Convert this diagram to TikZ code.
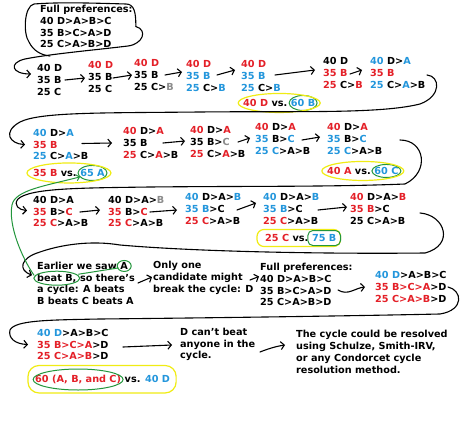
\documentclass[tikz,border=0pt]{standalone}
\usepackage{fontspec}
\setmainfont{DejaVu Sans}
\usetikzlibrary{arrows.meta,calc}
\definecolor{cred}{RGB}{228,32,40}
\definecolor{cblue}{RGB}{35,150,220}
\definecolor{cgray}{RGB}{140,140,140}
\definecolor{cyel}{RGB}{240,236,20}
\definecolor{cgrn}{RGB}{35,150,60}
\newcommand{\Rd}[1]{\textcolor{cred}{#1}}
\newcommand{\Bl}[1]{\textcolor{cblue}{#1}}
\newcommand{\Gy}[1]{\textcolor{cgray}{#1}}
\begin{document}
\begin{tikzpicture}[x=1pt,y=-1pt,line cap=round,line join=round,
  txt/.style={font=\bfseries\fontsize{9.7}{11.8}\selectfont, align=left, inner sep=0pt, anchor=west},
  ln/.style={font=\bfseries\fontsize{9.7}{11.8}\selectfont, inner sep=0pt, anchor=base west},
  hand/.style={line width=1.1pt},
  arr/.style={hand, -{Straight Barb[length=3.5pt,width=8pt]}},
  yel/.style={draw=cyel, line width=1.2pt},
  grn/.style={draw=cgrn, line width=1pt}]
\fill[white] (0,0) rectangle (474,422);
\useasboundingbox (0,0) rectangle (474,422);

% ---------- row 1 ----------
\node[txt] (b0) at (40,26.5) {Full preferences:\\40 D>A>B>C\\35 B>C>A>D\\25 C>A>B>D};
\node[txt] (b1) at (37,80) {40 D\\35 B\\25 C};
\node[txt] (b2) at (88,77) {\Rd{40 D}\\35 B\\25 C};
\node[txt] (b3) at (134,75) {\Rd{40 D}\\35 B\\25 C>\Gy{B}};
\node[txt] (b4) at (186,76) {\Rd{40 D}\\\Bl{35 B}\\\Bl{25} C>\Bl{B}};
\node[txt] (b5) at (241,76) {\Rd{40 D}\\\Bl{35 B}\\\Bl{25} C>\Bl{B}};
\node[txt] (b6) at (323,73) {40 D\\\Rd{35 B}\\\Rd{25} C>\Rd{B}};
\node[txt] (b7) at (370,73) {\Bl{40} D>\Bl{A}\\\Rd{35 B}\\\Bl{25} C>\Bl{A}>B};
\node[ln] (v1a) at (243,106.5) {\Rd{40 D} vs.};
\node[ln] (v1b) at ([xshift=3.3pt]v1a.base east) {\Bl{60 B}};

\draw[hand] ($(b0.east)+(3,0)$) .. controls (136,12) and (134,4) .. (126,4)
  .. controls (90,3) and (60,2) .. (34,4) .. controls (24,6) and (23,34) .. (29,42)
  .. controls (33,50) and (40,55) .. (50,56);
\draw[arr] ($(b0.east)+(3,0)$) .. controls (148,30) and (143,44) .. (128,46)
  .. controls (95,50) and (50,54) .. (25,59) .. controls (8,63) and (12,74) .. ($(b1.west)+(-6,-6)$);
\draw[arr] ($(b1.west)+(28,0)$) -- ($(b2.west)+(-3,1)$);
\draw[arr] ($(b2.west)+(25,1)$) -- ($(b3.west)+(-2,0)$);
\draw[arr] ($(b3.west)+(31,0)$) -- ($(b4.west)+(-4,-4)$);
\draw[arr] ($(b4.west)+(31,-1)$) -- ($(b5.west)+(-6,-6)$);
\draw[arr] ($(b5.west)+(34,-1)$) -- ($(b6.west)+(-8,-3)$);
\draw[arr] ($(b6.west)+(27,1)$) -- ($(b7.west)+(-8,-3)$);
\draw[grn] (v1b.center) ellipse (14 and 7.5);
\draw[yel] ($(v1a.west)!0.5!(v1b.east)$) ellipse (41 and 9.5);

% ---------- row 2 ----------
\node[txt] (b8) at (33,144.5) {\Bl{40} D>\Bl{A}\\\Rd{35 B}\\\Bl{25} C>\Bl{A}>B};
\node[txt] (b9) at (123,143) {\Rd{40} D>\Rd{A}\\35 B\\\Rd{25} C>\Rd{A}>B};
\node[txt] (b10) at (190,142) {\Rd{40} D>\Rd{A}\\35 B>\Gy{C}\\\Rd{25} C>\Rd{A}>B};
\node[txt] (b11) at (255,139) {\Rd{40} D>\Rd{A}\\\Bl{35} B>\Bl{C}\\\Bl{25 C}>A>B};
\node[txt] (b12) at (327,139) {\Rd{40} D>\Rd{A}\\\Bl{35} B>\Bl{C}\\\Bl{25 C}>A>B};
\node[ln] (v2a) at (33,176.5) {\Rd{35 B} vs.};
\node[ln] (v2b) at ([xshift=3.3pt]v2a.base east) {\Bl{65 A}};
\node[ln] (v3a) at (327,174.5) {\Rd{40 A} vs.};
\node[ln] (v3b) at ([xshift=3.3pt]v3a.base east) {\Bl{60 C}};

\draw[arr] ($(b7.west)+(57,2)$) .. controls (440,76) and (442,96) .. (420,104)
  .. controls (380,114) and (300,111) .. (200,112) .. controls (100,113) and (40,112) .. (20,122)
  .. controls (2,132) and (10,144) .. ($(b8.west)+(-8,0)$);
\draw[arr] ($(b8.west)+(49,-1)$) -- ($(b9.west)+(-11,0)$);
\draw[arr] ($(b9.west)+(40,0)$) -- ($(b10.west)+(-5,-1)$);
\draw[arr] ($(b10.west)+(48,0)$) -- ($(b11.west)+(-5,-1)$);
\draw[arr] ($(b11.west)+(47,1)$) -- ($(b12.west)+(-7,-2)$);
\draw[grn] (v2b.center) ellipse (14.5 and 7.5);
\draw[yel] ($(v2a.west)!0.5!(v2b.east)$) ellipse (42 and 10);
\draw[grn] (v3b.center) ellipse (14.5 and 6.5);
\draw[yel] ($(v3a.west)!0.5!(v3b.east)$) ellipse (41 and 9.5);

% ---------- row 3 ----------
\node[txt] (b13) at (33,211.5) {40 D>A\\\Rd{35} B>\Rd{C}\\\Rd{25 C}>A>B};
\node[txt] (b14) at (108,211.5) {40 D>A>\Gy{B}\\\Rd{35} B>\Rd{C}\\\Rd{25 C}>A>B};
\node[txt] (b15) at (185,209) {\Bl{40} D>A>\Bl{B}\\\Bl{35 B}>C\\\Rd{25 C}>A>B};
\node[txt] (b16) at (263,209) {\Bl{40} D>A>\Bl{B}\\\Bl{35 B}>C\\\Rd{25 C}>A>B};
\node[txt] (b17) at (350,209) {\Rd{40} D>A>\Rd{B}\\\Rd{35 B}>C\\25 C>A>B};
\node[ln] (v4a) at (265,241.5) {\Rd{25 C} vs.};
\node[ln] (v4b) at ([xshift=3.3pt]v4a.base east) {\Bl{75 B}};

\draw[arr] ($(b12.west)+(73,1)$) .. controls (425,140) and (430,172) .. (405,184)
  .. controls (330,187) and (250,186) .. (150,187) .. controls (80,188) and (30,188) .. (18,199)
  .. controls (13,205) and (19,210) .. ($(b13.west)+(-6,-1)$);
\draw[arr] ($(b13.west)+(47,0.5)$) -- ($(b14.west)+(-8,-1.5)$);
\draw[arr] ($(b14.west)+(42,0.5)$) -- ($(b15.west)+(-8,1)$);
\draw[arr] ($(b15.west)+(52,1)$) -- ($(b16.west)+(-7,-6)$);
\draw[arr] ($(b16.west)+(55,1)$) -- ($(b17.west)+(-3,-2)$);
\draw[yel, rounded corners=7pt] ($(v4a.west)+(-8,-8.5)$) rectangle ($(v4b.east)+(4,8.5)$);
\draw[grn, rounded corners=5pt] ($(v4b.west)+(-4,-7.5)$) rectangle ($(v4b.east)+(4,7.5)$);

% ---------- row 4 ----------
\node[ln] (t1a) at (37,269.5) {Earlier we saw};
\node[ln] (tA) at ([xshift=3.3pt]t1a.base east) {A};
\node[ln] (t1b) at (37,281.2) {beat B,};
\node[ln] (t1c) at ([xshift=3.3pt]t1b.base east) {so there's};
\node[ln] (t1d) at (37,292.9) {a cycle: A beats};
\node[ln] (t1e) at (37,304.6) {B beats C beats A};
\node[txt] (t2) at (153,278) {Only one\\candidate might\\break the cycle: D};
\node[txt] (t3) at (260,284.5) {Full preferences:\\40 D>A>B>C\\35 B>C>A>D\\25 C>A>B>D};
\node[txt] (t4) at (375,287) {\Bl{40 D}>A>B>C\\\Rd{35 B>C>A}>D\\\Rd{25 C>A>B}>D};

\draw[arr] ($(b17.west)+(70,4)$) .. controls (445,215) and (455,245) .. (425,253)
  .. controls (330,254) and (200,252) .. (120,245) .. controls (90,240) and (60,245) .. (40,252)
  .. controls (20,258) and (18,270) .. ($(t1b.west)+(-5,-3)$);
\draw[arr] ($(t1b.base west)+(101,1.8)$) -- ($(t2.west)+(-1,-1)$);
\draw[arr] ($(t2.west)+(97,2)$) -- ($(t3.west)+(-1,-8)$);
\draw[arr] ($(t3.west)+(78,5.5)$) .. controls (348,296) and (355,288) .. ($(t4.west)+(-10,0)$);
\draw[grn] (tA.center) ellipse (7 and 5.5);
\draw[grn] ($(t1b.west)!0.5!(t1b.east)$) ellipse (23 and 7);
\draw[grn] ($(t1b.east)+(2,-4)$) -- ($(tA.west)+(-2,2)$);
\draw[grn, -{Straight Barb[length=3pt,width=6pt]}] ($(t1b.west)+(-3,-3)$)
  .. controls (22,258) and (8,225) .. (12,205) .. controls (15,190) and (45,186) .. (v2b.south west);

% ---------- row 5 ----------
\node[txt] (b18) at (37,344.5) {\Bl{40 D}>A>B>C\\\Rd{35 B>C>A}>D\\\Rd{25 C>A>B}>D};
\node[ln] (v5a) at (35,382.5) {\Rd{60 (A, B, and C)}};
\node[ln] (v5b) at ([xshift=3.3pt]v5a.base east) {vs. \Bl{40 D}};
\node[txt] (t5) at (180,344.5) {D can't beat\\anyone in the\\cycle.};
\node[txt] (t6) at (296,352) {The cycle could be resolved\\using Schulze, Smith-IRV,\\or any Condorcet cycle\\resolution method.};

\draw[arr] ($(t4.west)+(73,0)$) .. controls (462,290) and (465,310) .. (440,314)
  .. controls (350,316) and (200,318) .. (100,319) .. controls (50,320) and (15,320) .. (10,330)
  .. controls (8,338) and (15,344) .. ($(b18.west)+(-9,0)$);
\draw[arr] ($(b18.west)+(86,2.5)$) -- ($(t5.west)+(-8,0.5)$);
\draw[arr] ($(t5.west)+(80,7.5)$) .. controls (270,348) and (278,346) .. ($(t6.west)+(-11,-7)$);
\draw[grn] (v5a.center) ellipse (45 and 10.5);
\draw[yel, rounded corners=11pt] ($(v5a.west)+(-7,-14)$) rectangle ($(v5b.east)+(6,14)$);
\end{tikzpicture}
\end{document}
